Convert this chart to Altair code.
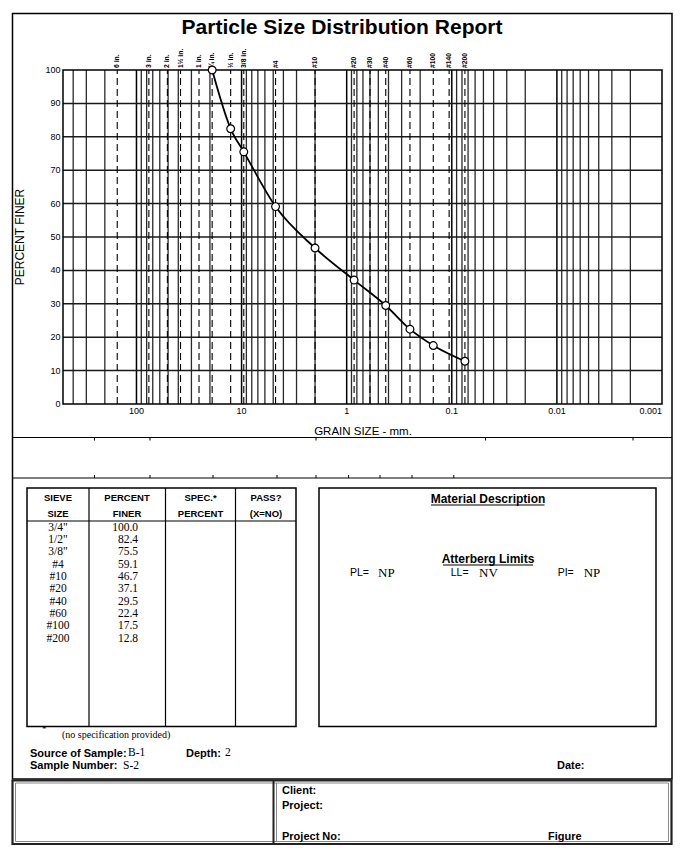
import altair as alt
import pandas as pd

# ---------------- data ----------------
test_sieve = ['3/4"', '1/2"', '3/8"', '#4', '#10', '#20', '#40', '#60', '#100', '#200']
test_size_mm = [19.05, 12.7, 9.525, 4.75, 2.0, 0.85, 0.425, 0.25, 0.15, 0.075]
percent_finer = [100.0, 82.4, 75.5, 59.1, 46.7, 37.1, 29.5, 22.4, 17.5, 12.8]

sieve_names = ['6 in.', '3 in.', '2 in.', '1½ in.', '1 in.', '¾ in.', '½ in.', '3/8 in.',
               '#4', '#10', '#20', '#30', '#40', '#60', '#100', '#140', '#200']
sieve_mm = [152.4, 76.2, 50.8, 38.1, 25.4, 19.05, 12.7, 9.525,
            4.75, 2.0, 0.85, 0.6, 0.425, 0.25, 0.15, 0.106, 0.075]

x_tick_values = [100, 10, 1, 0.1, 0.01, 0.001]
x_tick_labels = ['100', '10', '1', '0.1', '0.01', '0.001']
y_tick_values = [0, 10, 20, 30, 40, 50, 60, 70, 80, 90, 100]

X_MAX, X_MIN = 500, 0.001
decades = [0.001, 0.01, 0.1, 1, 10, 100]
minor_grid = [m * d for d in decades for m in range(2, 10) if m * d < X_MAX]
major_grid = [0.01, 0.1, 1, 10, 100]

# ---------------- page geometry ----------------
W, H = 666, 838
SANS = "Liberation Sans, Arial, sans-serif"
SERIF = "Liberation Serif, Times New Roman, serif"

lx_scale = alt.Scale(domain=[8, 8 + W], range=[0, W], nice=False, zero=False)
ly_scale = alt.Scale(domain=[8, 8 + H], range=[0, H], nice=False, zero=False)
px_scale = alt.Scale(type='log', domain=[X_MAX, X_MIN], range=[55, 654], nice=False)
py_scale = alt.Scale(domain=[0, 100], range=[396, 62], nice=False, zero=False)


def LX(f):
    return alt.X(f, type='quantitative', scale=lx_scale, axis=None)


def LY(f):
    return alt.Y(f, type='quantitative', scale=ly_scale, axis=None)


def PX(f):
    return alt.X(f, type='quantitative', scale=px_scale, axis=None)


def PY(f):
    return alt.Y(f, type='quantitative', scale=py_scale, axis=None)


layers = []

# ---------------- plot ----------------
vgrid = pd.DataFrame({'v': minor_grid})
layers.append(alt.Chart(vgrid).mark_rule(color='#2a2a2a', strokeWidth=1.3).encode(
    x=PX('v'), y=alt.YDatum(0, type='quantitative', scale=py_scale, axis=None),
    y2=alt.Y2Datum(100)))
mgrid = pd.DataFrame({'v': major_grid})
layers.append(alt.Chart(mgrid).mark_rule(color='black', strokeWidth=1.5).encode(
    x=PX('v'), y=alt.YDatum(0, type='quantitative', scale=py_scale, axis=None),
    y2=alt.Y2Datum(100)))
hgrid = pd.DataFrame({'p': y_tick_values[1:-1]})
layers.append(alt.Chart(hgrid).mark_rule(color='#1a1a1a', strokeWidth=1.5).encode(
    y=PY('p'), x=alt.XDatum(X_MAX, type='quantitative', scale=px_scale, axis=None),
    x2=alt.X2Datum(X_MIN)))

sv = pd.DataFrame({'name': sieve_names, 'mm': sieve_mm})
layers.append(alt.Chart(sv).mark_rule(color='black', strokeWidth=1.1, strokeDash=[7, 4]).encode(
    x=PX('mm'), y=alt.YDatum(0, type='quantitative', scale=py_scale, axis=None),
    y2=alt.Y2Datum(100)))
layers.append(alt.Chart(sv).mark_text(angle=270, align='left', baseline='middle', font=SANS,
                                      fontSize=6.8, fontWeight='bold', color='black').encode(
    x=PX('mm'), y=alt.value(60), text='name:N'))

# frame
frame = pd.DataFrame({'a': [X_MAX], 'b': [X_MIN], 'lo': [0], 'hi': [100]})
layers.append(alt.Chart(frame).mark_rect(fillOpacity=0, stroke='black', strokeWidth=1.5).encode(
    x=PX('a'), x2='b', y=PY('lo'), y2='hi'))

# curve
pts = pd.DataFrame({'sieve': test_sieve, 'mm': test_size_mm, 'pf': percent_finer,
                    'idx': list(range(len(test_sieve)))})
layers.append(alt.Chart(pts).mark_line(color='black', strokeWidth=1.8, interpolate='monotone').encode(
    x=PX('mm'), y=PY('pf'), order='idx:Q'))
layers.append(alt.Chart(pts).mark_point(shape='circle', filled=True, fill='white', stroke='black',
                                        strokeWidth=1.2, size=60, opacity=1).encode(
    x=PX('mm'), y=PY('pf')))

# tick labels
xt = pd.DataFrame({'v': x_tick_values, 'lab': x_tick_labels})
layers.append(alt.Chart(xt.iloc[:-1]).mark_text(align='center', baseline='middle', font=SANS,
                                               fontSize=9, color='black').encode(
    x=PX('v'), y=alt.value(402.5), text='lab:N'))
layers.append(alt.Chart(xt.iloc[-1:]).mark_text(align='right', baseline='middle', font=SANS,
                                               fontSize=9, color='black').encode(
    x=PX('v'), y=alt.value(402.5), text='lab:N'))
yt = pd.DataFrame({'p': y_tick_values})
layers.append(alt.Chart(yt).mark_text(align='right', baseline='middle', font=SANS,
                                      fontSize=9, color='black').encode(
    y=PY('p'), x=alt.value(52.5), text=alt.Text('p:Q', format='d')))

# ---------------- sieve table ----------------
rows = pd.DataFrame({'sieve': test_sieve, 'pf': percent_finer, 'row': list(range(len(test_sieve)))})
row_scale = alt.Scale(domain=[0, 9], range=[519.5, 630.5], nice=False, zero=False)
layers.append(alt.Chart(rows).mark_text(align='center', baseline='middle', font=SERIF,
                                        fontSize=11.5, color='black').encode(
    x=alt.value(50), y=alt.Y('row:Q', scale=row_scale, axis=None), text='sieve:N'))
layers.append(alt.Chart(rows).mark_text(align='right', baseline='middle', font=SERIF,
                                        fontSize=11.5, color='black').encode(
    x=alt.value(130), y=alt.Y('row:Q', scale=row_scale, axis=None),
    text=alt.Text('pf:Q', format='.1f')))

# ---------------- form boxes & lines ----------------
boxes = pd.DataFrame([
    (12.5, 13.5, 672, 779, 1.5, 'black'),
    (12.5, 780.5, 671.5, 844, 2.2, '#222'),
    (15.5, 783, 668.5, 841.5, 1, '#888'),
    (27, 488, 296, 726.5, 1.5, 'black'),
    (319, 488, 656, 726.5, 1.5, 'black'),
], columns=['x1', 'y1', 'x2', 'y2', 'sw', 'col'])
layers.append(alt.Chart(boxes).mark_rect(fillOpacity=0).encode(
    x=LX('x1'), x2='x2', y=LY('y1'), y2='y2',
    strokeWidth=alt.StrokeWidth('sw:Q', scale=None),
    stroke=alt.Stroke('col:N', scale=None)))

top_ticks = [94.5, 150, 316, 485.5, 633]
bot_ticks = [94.5, 150, 213, 277, 316, 348.6, 380, 412, 453.8]
lines = [
    (12.5, 437.5, 672, 437.5, 1.2, 'black'),
    (12.5, 478, 672, 478, 1.2, 'black'),
    (27, 521, 296, 521, 1.2, 'black'),
    (89, 488, 89, 726.5, 1.2, 'black'),
    (165.5, 488, 165.5, 726.5, 1.2, 'black'),
    (235.5, 488, 235.5, 726.5, 1.2, 'black'),
    (273.5, 781, 273.5, 843, 2, '#222'),
    (276.5, 783, 276.5, 841.5, 1, '#888'),
    (431, 505, 544.5, 505, 1, 'black'),
    (443, 565, 533, 565, 1, 'black'),
]
lines += [(t, 437.5, t, 440.5, 1, 'black') for t in top_ticks]
lines += [(t, 475, t, 478, 1, 'black') for t in bot_ticks]
lines = pd.DataFrame(lines, columns=['x1', 'y1', 'x2', 'y2', 'sw', 'col'])
layers.append(alt.Chart(lines).mark_rule().encode(
    x=LX('x1'), x2='x2', y=LY('y1'), y2='y2',
    strokeWidth=alt.StrokeWidth('sw:Q', scale=None),
    stroke=alt.Stroke('col:N', scale=None)))


def texts(items, **kw):
    df = pd.DataFrame(items, columns=['x', 'y', 't'])
    kw.setdefault('color', 'black')
    kw.setdefault('baseline', 'middle')
    return alt.Chart(df).mark_text(**kw).encode(x=LX('x'), y=LY('y'), text='t:N')


layers.append(texts([(342, 33.5, 'Particle Size Distribution Report')], font=SANS, fontSize=21,
                    fontWeight='bold', align='center', baseline='alphabetic'))
layers.append(texts([(363, 432, 'GRAIN SIZE - mm.')], font=SANS, fontSize=11.5, align='center'))
layers.append(texts([(19.5, 237, 'PERCENT FINER')], font=SANS, fontSize=12, align='center', angle=270))
layers.append(texts([(58, 497.5, 'SIEVE'), (58, 513.5, 'SIZE'), (127, 497.5, 'PERCENT'),
                     (127, 513.5, 'FINER'), (200.5, 497.5, 'SPEC.*'), (200.5, 513.5, 'PERCENT'),
                     (266, 497.5, 'PASS?'), (266, 513.5, '(X=NO)')],
                    font=SANS, fontSize=9.5, fontWeight='bold', align='center'))
layers.append(texts([(488, 498.5, 'Material Description'), (488, 558.5, 'Atterberg Limits')],
                    font=SANS, fontSize=12, fontWeight='bold', align='center'))
layers.append(texts([(350, 573, 'PL='), (450.7, 573, 'LL='), (557.7, 573, 'PI=')],
                    font=SANS, fontSize=10.5, align='left'))
layers.append(texts([(378, 573, 'NP'), (479, 573, 'NV'), (583.7, 573, 'NP')],
                    font=SERIF, fontSize=13, align='left'))
layers.append(texts([(30, 754, 'Source of Sample:'), (186, 754, 'Depth:'),
                     (30, 766, 'Sample Number:'), (557, 766, 'Date:'),
                     (282, 790.5, 'Client:'), (282, 806, 'Project:'),
                     (282, 837, 'Project No:'), (548, 837, 'Figure')],
                    font=SANS, fontSize=11, fontWeight='bold', align='left'))
layers.append(texts([(128, 753, 'B-1'), (225, 752.5, '2'), (123, 765.5, 'S-2')],
                    font=SERIF, fontSize=11.5, align='left'))
layers.append(texts([(62, 735, '(no specification provided)')], font=SERIF, fontSize=10, align='left'))
layers.append(texts([(42, 729, '*')], font=SERIF, fontSize=9, align='left'))

chart = alt.layer(*layers).resolve_scale(x='independent', y='independent').properties(
    width=W, height=H, padding=0, autosize='none', background='white'
).configure_view(stroke=None)

chart.save("out.html", embed_options={"renderer": "svg", "actions": False})
